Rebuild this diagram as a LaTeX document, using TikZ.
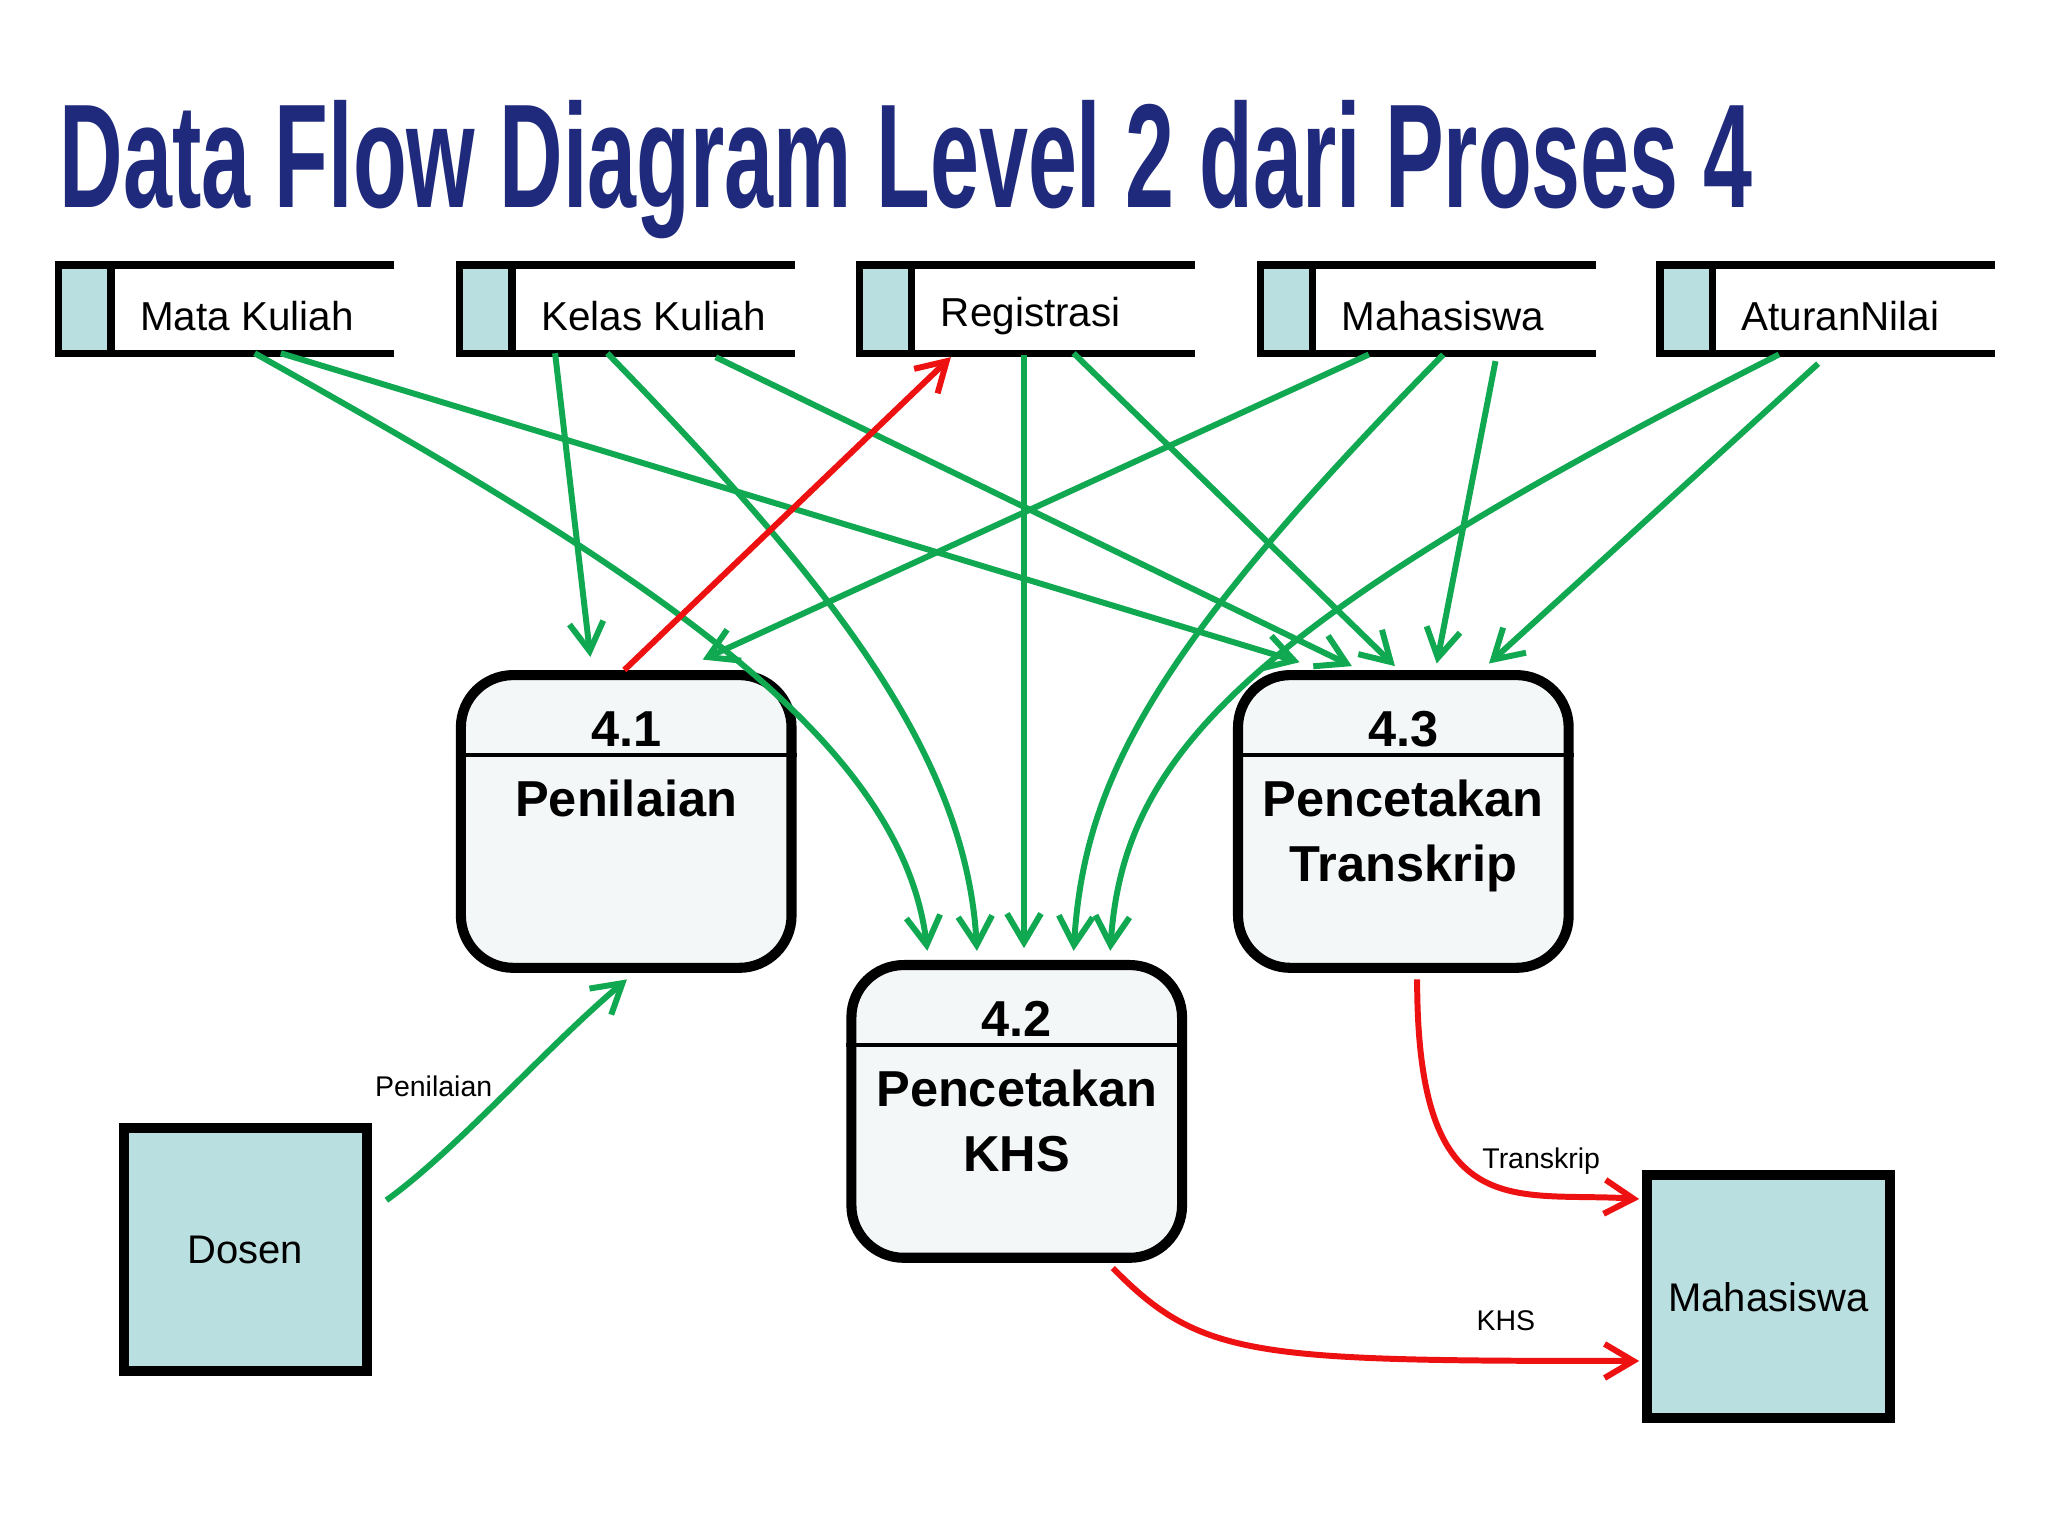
\documentclass[tikz,border=0pt]{standalone}
\usepackage{fontspec}
\setmainfont{Liberation Sans}
\usetikzlibrary{arrows.meta, calc}
\definecolor{boxblue}{HTML}{B9DFE0}
\definecolor{procfill}{HTML}{F4F7F8}
\definecolor{flowgreen}{HTML}{10A850}
\definecolor{flowred}{HTML}{EE1111}
\definecolor{titleblue}{HTML}{1F2A7C}
\tikzset{
  store/.style={minimum width=2.55cm, minimum height=0.66cm, anchor=north west, inner sep=0pt},
  proc/.style={draw, line width=2.2pt, rounded corners=0.4cm, fill=procfill, minimum width=2.53cm, minimum height=2.24cm, anchor=north west},
  ext/.style={draw, line width=2.2pt, fill=boxblue, minimum width=1.86cm, minimum height=1.86cm, anchor=north west, font=\fontsize{8.7}{10}\selectfont},
  gflow/.style={draw=flowgreen, line width=1.3pt, -{Straight Barb[length=2.2mm, width=2.6mm]}},
  rflow/.style={draw=flowred, line width=1.3pt, -{Straight Barb[length=2.2mm, width=2.6mm]}},
  lbl/.style={font=\fontsize{6.2}{7}\selectfont}
}
\newcommand\mkstore[3]{%
  \node[store] (#1) at (#2,203) {};
  \fill[boxblue] (#1.north west) rectangle ($(#1.south west)+(40,0)$);
  \draw[line width=1.6pt] (#1.north east) -- (#1.north west) -- (#1.south west) -- (#1.south east);
  \draw[line width=1.6pt] ($(#1.north west)+(40,0)$) -- ($(#1.south west)+(40,0)$);
  \node[anchor=west, font=\fontsize{8.8}{10}\selectfont] at ($(#1.west)+(50,5)$) {#3};}
\newcommand\mkproc[4]{%
  \node[proc] (#1) at (#2) {};
  \draw[line width=0.8pt] ($(#1.north west)+(0,65)$) -- ($(#1.north east)+(0,65)$);
  \node[font=\bfseries\fontsize{11}{12}\selectfont] at ($(#1.north)+(0,45)$) {#3};
  \node[anchor=north, align=center, font=\bfseries\fontsize{11}{14}\selectfont] at ($(#1.north)+(0,72)$) {#4};}
\begin{document}
\begin{tikzpicture}[x=0.01cm, y=-0.01cm]
\useasboundingbox[fill=white] (0,0) rectangle (1568,1176);
\node[anchor=west, inner sep=0pt, text=titleblue] (title) at (45,130)
  {\resizebox{12.95cm}{0.82cm}{\bfseries Data Flow Diagram Level 2 dari Proses 4}};

\mkstore{mk}{45}{Mata Kuliah}
\mkstore{kk}{352}{Kelas Kuliah}
\mkstore{rg}{658}{Registrasi}
\mkstore{mh}{965}{Mahasiswa}
\mkstore{an}{1271}{AturanNilai}

\mkproc{p1}{349,513}{4.1}{Penilaian}
\mkproc{p2}{648,735}{4.2}{Pencetakan\\KHS}
\mkproc{p3}{944,513}{4.3}{Pencetakan\\Transkrip}

\node[ext] (dosen) at (91,860) {Dosen};
\node[ext] (mhs) at (1257,896) {Mahasiswa};

% green flows
\draw[gflow] ($(mk.south west)+(150,0)$) .. controls (480,430) and (690,560) .. ($(p2.north west)+(62,-7)$);
\draw[gflow] ($(mk.south west)+(170,0)$) -- ($(p3.north west)+(51,-6)$);
\draw[gflow] ($(kk.south west)+(73,0)$) -- ($(p1.north west)+(103,-10)$);
\draw[gflow] ($(kk.south west)+(113,0)$) .. controls (640,450) and (740,580) .. ($(p2.north west)+(100,-7)$);
\draw[gflow] ($(kk.south west)+(196,3)$) -- ($(p3.north west)+(91,-3)$);
\draw[gflow] ($(rg.south west)+(126,1)$) -- ($(p2.north west)+(136,-9)$);
\draw[gflow] ($(rg.south west)+(164,0)$) -- ($(p3.north west)+(124,-3)$);
\draw[gflow] ($(mh.south west)+(83,1)$) -- ($(p1.north west)+(189,-8)$);
\draw[gflow] ($(mh.south west)+(140,1)$) .. controls (880,500) and (830,600) .. ($(p2.north west)+(174,-7)$);
\draw[gflow] ($(mh.south west)+(180,6)$) -- ($(p3.north west)+(156,-5)$);
\draw[gflow] ($(an.south west)+(91,1)$) .. controls (950,480) and (860,580) .. ($(p2.north west)+(202,-7)$);
\draw[gflow] ($(an.south west)+(121,8)$) -- ($(p3.north west)+(196,-5)$);

% red flows
\draw[rflow] ($(p1.north west)+(129,0)$) -- ($(rg.south west)+(70,3)$);
\draw[gflow] ($(dosen.east)+(11,-38)$) .. controls (350,880) and (420,800) .. ($(p1.south west)+(131,5)$);
\node[lbl] (lpen) at (332,832) {Penilaian};
\draw[rflow] ($(p3.south west)+(141,5)$) .. controls (1085,940) and (1160,912) .. ($(mhs.north west)+(-2,22)$);
\node[lbl] (ltr) at (1180,889) {Transkrip};
\draw[rflow] ($(p2.south west)+(204,4)$) .. controls (920,1040) and (960,1042) .. ($(mhs.north west)+(-2,146)$);
\node[lbl] (lkhs) at (1153,1011) {KHS};
\end{tikzpicture}
\end{document}
